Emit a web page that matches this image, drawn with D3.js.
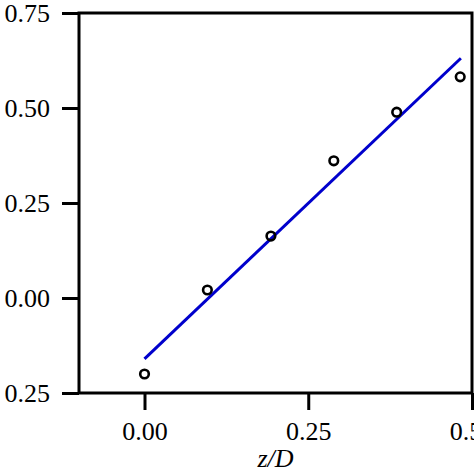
<!DOCTYPE html>
<html>
<head>
<meta charset="utf-8">
<script src="https://cdn.jsdelivr.net/npm/d3@7"></script>
<style>
  body { margin: 0; background: #fff; }
</style>
</head>
<body>
<div></div>
<script>
// measured points
let zD = [0.0, 0.096, 0.193, 0.289, 0.385, 0.482]
let vals = [-0.2, 0.021, 0.163, 0.361, 0.489, 0.582]

// fitted line ends
let fitX = [0.0, 0.483]
let fitY = [-0.16, 0.631]

let xTicks = [0.0, 0.25, 0.5]
let yTicks = [-0.25, 0.0, 0.25, 0.5, 0.75]

let w = 474, h = 474;
let padL = 79, padR = 472, padT = 13, padB = 393;
let serif = "'Liberation Serif', 'Times New Roman', Times, serif";

let svg = d3.select("div").append("svg").attr("width", w).attr("height", h);

let xScale = d3.scaleLinear().domain([-0.1, 0.5]).range([padL, padR]);
let yScale = d3.scaleLinear().domain([-0.25, 0.75]).range([padB, padT]);

// frame
svg.append("rect")
    .attr("x", padL).attr("y", padT)
    .attr("width", padR - padL).attr("height", padB - padT)
    .attr("fill", "none").attr("stroke", "#000").attr("stroke-width", 3);

const fmt = d3.format(".2f");
const xAxis = d3.axisBottom(xScale).tickValues(xTicks).tickSize(17).tickPadding(12).tickFormat(fmt);
const yAxis = d3.axisLeft(yScale).tickValues(yTicks).tickSize(17).tickPadding(12).tickFormat(d => fmt(Math.abs(d)));

let gx = svg.append("g").attr("transform", "translate(0," + padB + ")").call(xAxis);
let gy = svg.append("g").attr("transform", "translate(" + padL + ",0)").call(yAxis);

[gx, gy].forEach(g => {
    g.attr("font-family", null).attr("font-size", null);
    g.select(".domain").remove();
    g.selectAll(".tick line").attr("stroke", "#000").attr("stroke-width", 3);
    g.selectAll(".tick text").attr("fill", "#000")
        .style("font-family", serif).style("font-size", "26px");
});

// fit line
svg.append("line")
    .attr("x1", xScale(fitX[0])).attr("y1", yScale(fitY[0]))
    .attr("x2", xScale(fitX[1])).attr("y2", yScale(fitY[1]))
    .attr("stroke", "#0000cc").attr("stroke-width", 3);

// points
svg.selectAll("circle.pt")
    .data(zD.map((d, i) => [d, vals[i]]))
    .enter()
    .append("circle")
    .attr("class", "pt")
    .attr("cx", d => xScale(d[0]))
    .attr("cy", d => yScale(d[1]))
    .attr("r", 4.3)
    .attr("fill", "none")
    .attr("stroke", "#000")
    .attr("stroke-width", 2.6);

svg.append("text")
    .attr("x", (padL + padR) / 2)
    .attr("y", 467)
    .attr("text-anchor", "middle")
    .style("font-family", serif)
    .style("font-size", "26px")
    .style("font-style", "italic")
    .text("z/D");
</script>
</body>
</html>
